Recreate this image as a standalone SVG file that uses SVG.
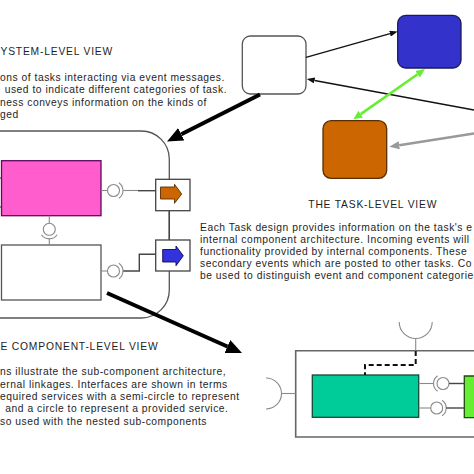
<svg xmlns="http://www.w3.org/2000/svg" width="474" height="474" viewBox="0 0 474 474">
<style>
text{font-family:"Liberation Sans",Arial,Helvetica,sans-serif;fill:#1e1e1e;}
.t{font-size:10.3px;letter-spacing:0.8px;}
.b{font-size:10.3px;letter-spacing:0.52px;}
.iface{fill:none;stroke:#8a8a8a;stroke-width:1.1;}
.dk{fill:none;stroke:#444;stroke-width:1.4;}
.port{fill:#fff;stroke:#444;stroke-width:1.3;}
</style>
<defs>
<marker id="ahThin" markerUnits="userSpaceOnUse" markerWidth="8" markerHeight="6" refX="0" refY="3" orient="auto"><path d="M0,0 L8,3 L0,6 Z" fill="#111"/></marker>
<marker id="ahThick" markerUnits="userSpaceOnUse" markerWidth="16" markerHeight="14" refX="0" refY="7" orient="auto"><path d="M0,0 L16,7 L0,14 Z" fill="#000"/></marker>
<marker id="ahGreen" markerUnits="userSpaceOnUse" markerWidth="9" markerHeight="8" refX="0" refY="4" orient="auto-start-reverse"><path d="M0,0 L9,4 L0,8 Z" fill="#66ee33"/></marker>
<marker id="ahGray" markerUnits="userSpaceOnUse" markerWidth="10" markerHeight="8" refX="0" refY="4" orient="auto"><path d="M0,0 L10,4 L0,8 Z" fill="#999"/></marker>
</defs>
<rect x="0" y="0" width="474" height="474" fill="#fff"/>

<!-- System-level view nodes -->
<g id="sys-task-white"><rect x="242.3" y="36" width="63.7" height="58" rx="8" fill="#fff" stroke="#555" stroke-width="1.3"/></g>
<g id="sys-task-blue"><rect x="397.7" y="15.3" width="63.3" height="52.7" rx="8" fill="#3333cc" stroke="#1a1a5e" stroke-width="1.3"/></g>
<g id="sys-task-orange"><rect x="323" y="120.7" width="63.7" height="57.6" rx="8" fill="#cc6600" stroke="#5a2e00" stroke-width="1.3"/></g>

<!-- Task-level view -->
<g id="task-container"><path d="M0,131 H141 A28,28 0 0 1 169.3,159 V290 A28,28 0 0 1 141,318 H0" fill="none" stroke="#555" stroke-width="1.3"/></g>
<g id="comp-pink">
<rect x="1.5" y="160.7" width="99.5" height="55" fill="#ff5ccd" stroke="#5e0a5e" stroke-width="1.3"/>
<path d="M0,178 H1.5 M0,207 H1.5" stroke="#5e0a5e" stroke-width="1.2"/>
</g>
<g id="comp-white"><rect x="1.5" y="245" width="99.5" height="55" fill="#fff" stroke="#555" stroke-width="1.3"/></g>
<g id="port-orange">
<rect class="port" x="155.7" y="179.3" width="34.3" height="31.4"/>
<path d="M160.5,187 H174.5 V184.3 L181.7,194 L174.5,203.3 V199 H160.5 Z" fill="#cc6600" stroke="#5a2e00" stroke-width="0.9"/>
</g>
<g id="port-blue">
<rect class="port" x="155.7" y="240" width="34.3" height="31"/>
<path d="M162.7,249.5 H176 V246 L183.3,255.8 L176,265.7 V262 H162.7 Z" fill="#3333dd" stroke="#0a0a55" stroke-width="0.9"/>
</g>
<g id="task-interfaces">
<line class="iface" x1="101" y1="190.5" x2="107.5" y2="190.5"/>
<circle class="iface" cx="113.5" cy="190.5" r="6"/>
<path class="iface" d="M118.9,182.7 A9.5,9.5 0 0 1 118.9,198.3"/>
<line class="iface" x1="123.3" y1="190.5" x2="138" y2="190.5"/>
<line class="dk" x1="138" y1="190.7" x2="155.7" y2="190.7"/>
<line class="iface" x1="49.3" y1="215.7" x2="49.3" y2="223.3"/>
<circle class="iface" cx="49.3" cy="229.3" r="6"/>
<path class="iface" d="M41.5,234.8 A9.5,9.5 0 0 0 57.1,234.8"/>
<line class="iface" x1="49.3" y1="238.8" x2="49.3" y2="245"/>
<line class="iface" x1="101" y1="271" x2="107.5" y2="271"/>
<circle class="iface" cx="113.5" cy="271" r="6"/>
<path class="iface" d="M118.9,263.2 A9.5,9.5 0 0 1 118.9,278.8"/>
<polyline class="dk" points="123.3,271 139.3,271 139.3,254.3 155.7,254.3"/>
<line class="dk" x1="169.3" y1="210.7" x2="169.3" y2="240"/>
</g>

<!-- Component-level view -->
<g id="comp-container">
<path d="M474,350.7 H295.7 V437 H474" fill="none" stroke="#666" stroke-width="1.6"/>
<path class="iface" d="M266,378 A15.5,15.5 0 0 1 266,409"/>
<line class="iface" x1="281.5" y1="393.5" x2="295.7" y2="393.5"/>
<path class="iface" d="M399.2,322 A16.5,16.5 0 0 0 432.2,322"/>
<line class="iface" x1="415.7" y1="338.5" x2="415.7" y2="350.7"/>
</g>
<g id="sub-teal"><rect x="312.3" y="375" width="106.4" height="42.3" fill="#00cc99" stroke="#124a36" stroke-width="1.3"/></g>
<g id="sub-green">
<rect x="464.3" y="376" width="10" height="41.7" fill="#66ee33"/>
<path d="M474,376 H464.3 V417.7 H474" fill="none" stroke="#1f4a10" stroke-width="1.3"/>
</g>
<g id="sub-interfaces">
<polyline points="415.7,351 415.7,365 365,365 365,375" fill="none" stroke="#111" stroke-width="2" stroke-dasharray="5,3"/>
<line class="iface" x1="418.7" y1="383.5" x2="433.5" y2="383.5"/>
<path class="iface" d="M437.6,391.3 A9.5,9.5 0 0 1 437.6,375.7"/>
<circle class="iface" cx="443" cy="383.5" r="6"/>
<line class="dk" x1="449" y1="383.5" x2="464.3" y2="383.5"/>
<line class="iface" x1="418.7" y1="408" x2="430.7" y2="408"/>
<circle class="iface" cx="436.7" cy="408" r="6"/>
<path class="iface" d="M442.1,400.2 A9.5,9.5 0 0 1 442.1,415.8"/>
<line class="dk" x1="446.2" y1="408" x2="464.3" y2="408"/>
</g>

<!-- Connectors -->
<g id="connectors">
<line x1="306" y1="57.3" x2="390" y2="33.7" stroke="#111" stroke-width="1.3" marker-end="url(#ahThin)"/>
<line x1="474" y1="110" x2="314.6" y2="80.5" stroke="#111" stroke-width="1.3" marker-end="url(#ahThin)"/>
<line x1="417.6" y1="74.2" x2="360.7" y2="114.1" stroke="#66ee33" stroke-width="2.6" marker-start="url(#ahGreen)" marker-end="url(#ahGreen)"/>
<line x1="474" y1="133.5" x2="399.2" y2="145.2" stroke="#999" stroke-width="2.6" marker-end="url(#ahGray)"/>
<line x1="260" y1="94.5" x2="181.3" y2="134.3" stroke="#000" stroke-width="4" marker-end="url(#ahThick)"/>
<line x1="107" y1="293" x2="227.4" y2="346.5" stroke="#000" stroke-width="4" marker-end="url(#ahThick)"/>
</g>

<!-- Texts -->
<g id="text-system">
<text class="t" x="0.5" y="55.3">YSTEM-LEVEL VIEW</text>
<text class="b" x="0" y="80.5">ons of tasks interacting via event messages.</text>
<text class="b" x="4.7" y="93">used to indicate different categories of task.</text>
<text class="b" x="0" y="105.5">ness conveys information on the kinds of</text>
<text class="b" x="0" y="118">ged</text>
</g>
<g id="text-task">
<text class="t" x="308.3" y="208.3">THE TASK-LEVEL VIEW</text>
<text class="b" x="200" y="231">Each Task design provides information on the task's e</text>
<text class="b" x="200" y="243">internal component architecture. Incoming events will</text>
<text class="b" x="200" y="255">functionality provided by internal components. These</text>
<text class="b" x="200" y="267">secondary events which are posted to other tasks.  Co</text>
<text class="b" x="200" y="279">be used to distinguish event and component categorie</text>
</g>
<g id="text-component">
<text class="t" x="0.5" y="350">E COMPONENT-LEVEL VIEW</text>
<text class="b" x="0" y="375">ns illustrate the sub-component architecture,</text>
<text class="b" x="0" y="387.5">ernal linkages. Interfaces are shown in terms</text>
<text class="b" x="0" y="400">equired services with a semi-circle to represent</text>
<text class="b" x="5.3" y="412">and a circle to represent a provided service.</text>
<text class="b" x="0" y="424.5">so used with the nested sub-components</text>
</g>
</svg>
